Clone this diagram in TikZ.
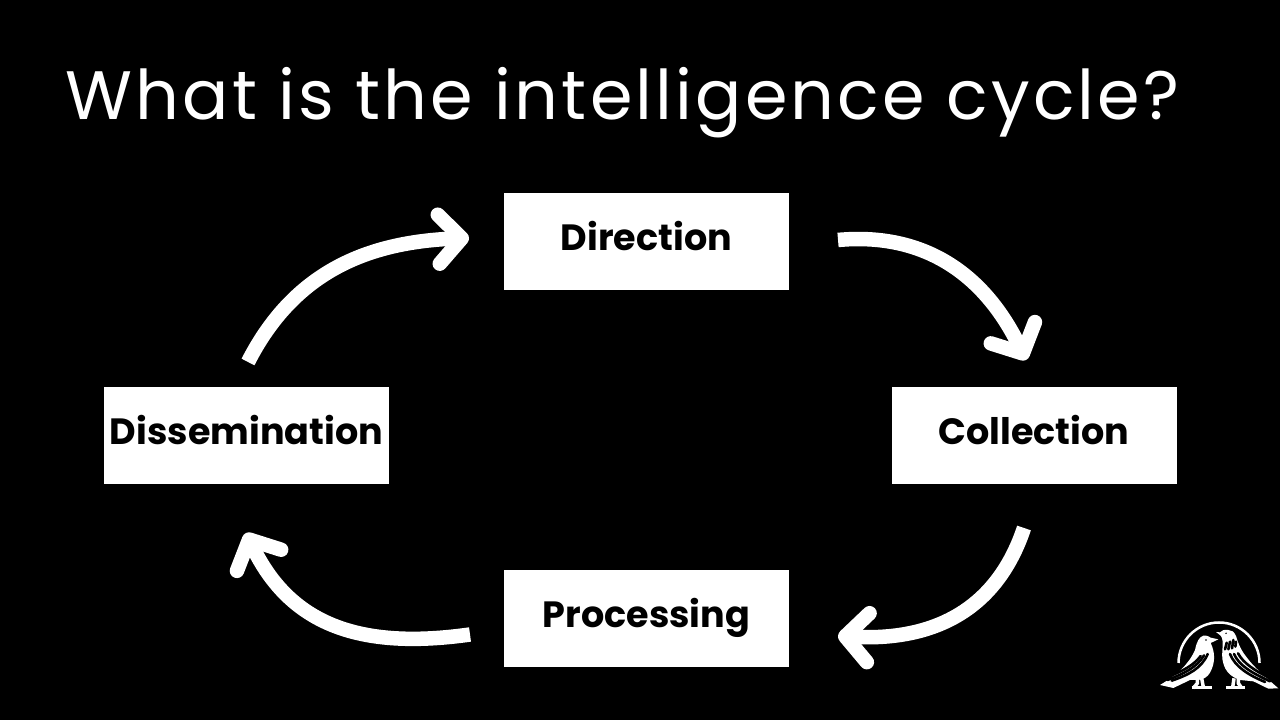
\documentclass[tikz,border=0pt]{standalone}
\usepackage{fontspec}
\usetikzlibrary{arrows.meta}
\newfontfamily\titlefont[LetterSpace=4.6]{Poppins}
\newfontfamily\boxfont{Poppins Bold}
\tikzset{
stagebox/.style={fill=white,text=black,minimum width=2.85cm,minimum height=.97cm,inner sep=0pt,text height=.26cm,text depth=.08cm,font=\boxfont\fontsize{10.4pt}{13pt}\selectfont},
cyclearrow/.style={white,line width=.145cm,-{Straight Barb[round,length=.23cm,width=.49cm]}},
birdline/.style={black,line width=.026cm,line cap=round}
}
\begin{document}
\begin{tikzpicture}[
left bird/.pic={
\fill[white] (1.90,1.07) .. controls (2.02,1.06) and (2.08,1.10) .. (2.12,1.13) -- (2.35,1.18) -- (2.12,1.29) .. controls (2.24,1.55) and (2.28,1.85) .. (2.10,2.18) .. controls (2.02,2.32) and (1.90,2.38) .. (1.75,2.40) -- (1.50,2.40) -- (1.00,2.64) -- (0.60,2.55) .. controls (1.10,2.25) and (1.45,1.95) .. (1.65,1.50) .. controls (1.70,1.25) and (1.78,1.10) .. (1.90,1.07) -- cycle;
\draw[birdline] (2.03,1.62) .. controls (1.85,2.05) and (1.45,2.25) .. (0.95,2.42);
\draw[birdline] (1.92,1.66) .. controls (1.72,2.00) and (1.35,2.20) .. (0.82,2.40);
\draw[birdline] (1.82,1.68) .. controls (1.62,1.95) and (1.30,2.12) .. (0.90,2.28);
\draw[white,line width=.035cm] (1.72,2.35) -- (1.72,2.50) -- (1.60,2.64) (1.85,2.35) -- (1.90,2.62);
\draw[white,line width=.03cm] (1.55,2.64) -- (2.15,2.64);
\fill[black] (1.98,1.20) circle (.025);
},
right bird/.pic={
\fill[white] (2.65,0.90) .. controls (2.50,0.88) and (2.45,0.92) .. (2.40,0.97) -- (2.28,0.96) -- (2.42,1.07) .. controls (2.56,1.25) and (2.40,1.60) .. (2.50,1.90) .. controls (2.56,2.15) and (2.75,2.32) .. (3.00,2.40) -- (3.40,2.44) -- (3.85,2.66) -- (4.15,2.65) .. controls (3.75,2.30) and (3.40,2.00) .. (3.20,1.72) .. controls (2.98,1.45) and (2.92,1.20) .. (2.88,1.08) .. controls (2.82,0.95) and (2.75,0.90) .. (2.65,0.90) -- cycle;
\draw[birdline] (2.70,1.62) .. controls (2.85,2.00) and (3.25,2.25) .. (3.75,2.46);
\draw[birdline] (2.82,1.62) .. controls (2.98,1.98) and (3.35,2.18) .. (3.90,2.44);
\draw[birdline] (2.94,1.60) .. controls (3.10,1.90) and (3.45,2.12) .. (3.85,2.32);
\draw[birdline] (2.60,1.28) -- (2.55,1.48) (2.70,1.25) -- (2.65,1.48) (2.80,1.20) -- (2.76,1.45) (2.88,1.25) -- (2.86,1.40);
\draw[white,line width=.035cm] (2.95,2.35) -- (2.95,2.50) -- (3.05,2.64) (2.82,2.35) -- (2.78,2.62);
\draw[white,line width=.03cm] (2.58,2.64) -- (3.15,2.64);
\fill[black] (2.58,1.00) circle (.025);
}
]
\fill[black] (0,0) rectangle (12.8,7.2);
\useasboundingbox (0,0) rectangle (12.8,7.2);
% title
\node[anchor=base west,inner sep=0pt,text=white,font=\titlefont\fontsize{19.5pt}{25pt}\selectfont] (title) at (.65,6.00) {What is the intelligence cycle?};
% stages
\node[stagebox] (direction) at (6.465,4.785) {Direction};
\node[stagebox] (collection) at (10.34,2.845) {Collection};
\node[stagebox] (processing) at (6.465,1.015) {Processing};
\node[stagebox] (dissemination) at (2.465,2.845) {Dissemination};
% arrow ends
\coordinate (d out) at (8.38,4.80);
\coordinate (c in) at (10.26,3.60);
\coordinate (c out) at (10.24,1.92);
\coordinate (p in) at (8.38,.84);
\coordinate (p out) at (4.70,.855);
\coordinate (s in) at (2.46,1.87);
\coordinate (s out) at (2.48,3.58);
\coordinate (d in) at (4.69,4.82);
% arrows
\draw[cyclearrow] (d out) .. controls (9.25,4.88) and (9.85,4.45) .. (c in);
\draw[cyclearrow] (c out) .. controls (10.0,1.20) and (9.45,.78) .. (p in);
\draw[cyclearrow] (p out) .. controls (3.60,.70) and (2.90,.95) .. (s in);
\draw[cyclearrow] (s out) .. controls (2.95,4.50) and (3.70,4.78) .. (d in);
% logo
\draw[white,line width=.025cm] (11.785,.57) arc (180:0:.405);
\pic[scale=1/3,yscale=-1] at (11.40,1.20) {left bird};
\pic[scale=1/3,yscale=-1] at (11.40,1.20) {right bird};
\end{tikzpicture}
\end{document}
